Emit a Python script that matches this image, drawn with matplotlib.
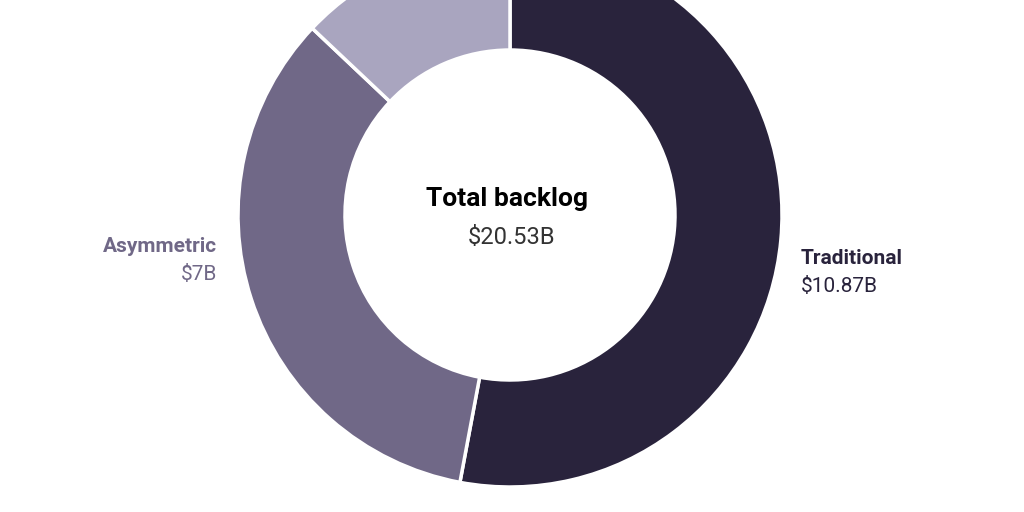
import matplotlib
matplotlib.use("Agg")
import matplotlib.pyplot as plt

categories = ["Traditional", "Asymmetric", "Other"]
values = [10.87, 7.0, 2.66]
colors = ["#29233c", "#706887", "#a9a5bf"]
total_label = "$20.53B"

fig = plt.figure(figsize=(10.24, 5.12), dpi=100)
ax = fig.add_axes([0, 0, 1, 1])
ax.pie(values, colors=colors, startangle=90, counterclock=False,
       center=(510, 297), radius=272,
       wedgeprops=dict(width=107, edgecolor="white", linewidth=2.5))
ax.set_xlim(0, 1024)
ax.set_ylim(0, 512)
ax.set_aspect("equal")
ax.axis("off")

fam = ["Roboto", "DejaVu Sans"]
ax.text(507, 313, "Total backlog", ha="center", va="center", fontsize=19,
        fontweight="bold", color="black", family=fam)
ax.text(512, 274, total_label, ha="center", va="center", fontsize=17,
        color="#333333", family=fam)
ax.text(801, 254, "Traditional", ha="left", va="center", fontsize=15,
        fontweight="bold", color=colors[0], family=fam)
ax.text(801, 226, "$10.87B", ha="left", va="center", fontsize=15,
        color=colors[0], family=fam)
ax.text(217, 265, "Asymmetric", ha="right", va="center", fontsize=15,
        fontweight="bold", color=colors[1], family=fam)
ax.text(217, 237, "$7B", ha="right", va="center", fontsize=15,
        color=colors[1], family=fam)

fig.savefig("out.png", dpi=100)
